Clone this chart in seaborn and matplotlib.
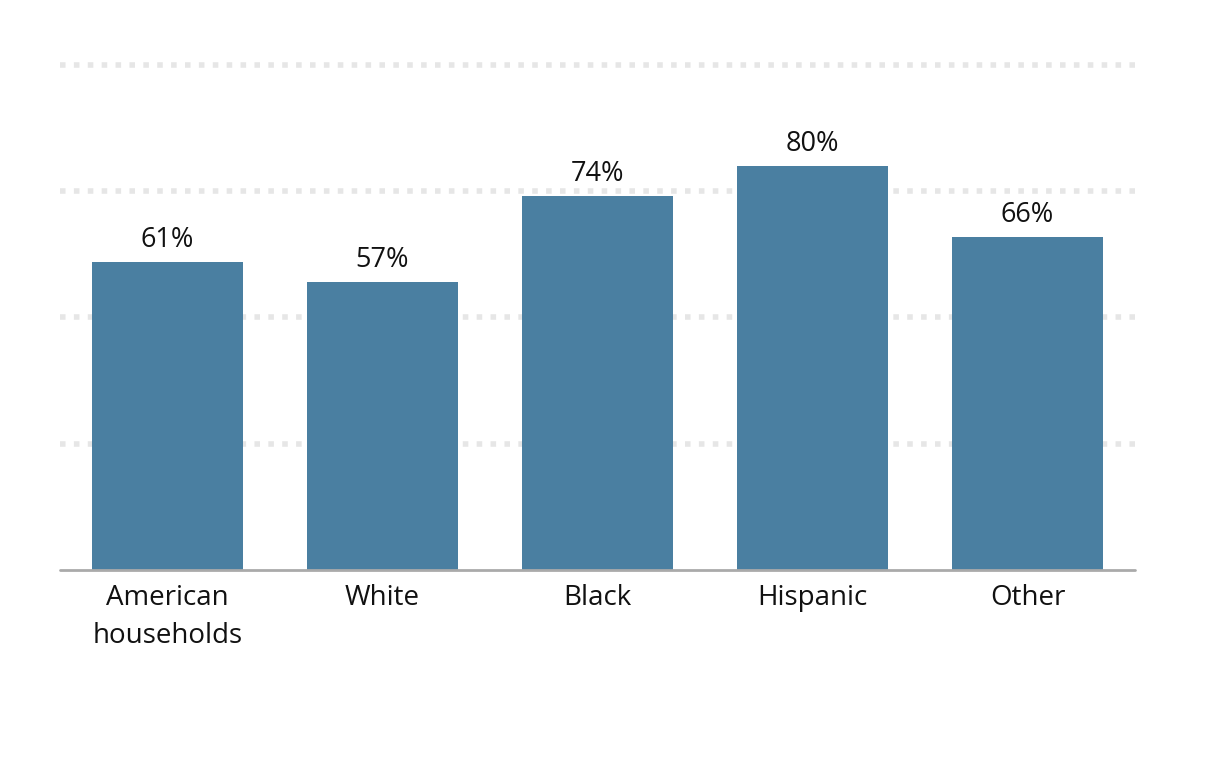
import pandas as pd
import seaborn as sns
import matplotlib.pyplot as plt

# Data
groups = ["American\nhouseholds", "White", "Black", "Hispanic", "Other"]
shares = [61, 57, 74, 80, 66]
gridlines = [25, 50, 75, 100]

df = pd.DataFrame({"group": groups, "share": shares})

sns.set_style("white")
plt.rcParams['font.family'] = ['Open Sans', 'DejaVu Sans']

fig = plt.figure(figsize=(12.16, 7.61), dpi=100)
ax = fig.add_axes([0.0493, 0.251, 0.8841, 0.6636])

for g in gridlines:
    ax.axhline(g, color="#e6e6e6", linewidth=4, linestyle=(0, (1, 1.5)),
               zorder=0, clip_on=False)

sns.barplot(data=df, x="group", y="share", color="#4a7fa1", saturation=1,
            width=0.7, linewidth=0, ax=ax, zorder=2)

for i, v in enumerate(shares):
    ax.text(i, v + 3.0, f"{v}%", ha="center", va="baseline", fontsize=19.5, color="#111111")

ax.axhline(0, color="#aaaaaa", linewidth=2, zorder=3, clip_on=False)
ax.set_xlim(-0.5, 4.5)
ax.set_ylim(0, 100)
ax.set_yticks([])
ax.set_xlabel("")
ax.set_ylabel("")
ax.tick_params(axis="x", length=0, labelsize=20, pad=10, labelcolor="#111111")
for lbl in ax.get_xticklabels():
    lbl.set_linespacing(1.5)
for s in ax.spines.values():
    s.set_visible(False)

fig.savefig("out.png", dpi=100)
